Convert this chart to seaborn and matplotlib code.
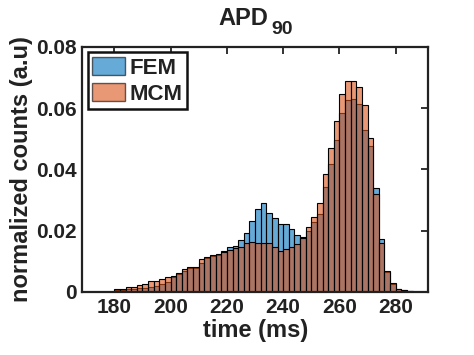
import numpy as np
import pandas as pd
import matplotlib
matplotlib.use("Agg")
import matplotlib.pyplot as plt
from matplotlib.patches import Patch
import seaborn as sns

# histogram bins (ms) and normalized counts
bin_edges = list(range(180, 288, 2))
fem_counts = [
    0.0008, 0.0008, 0.0011, 0.0011, 0.0013, 0.0014, 0.0017, 0.0021, 0.0026, 0.0033,
    0.0048, 0.0058, 0.0070, 0.0078, 0.0078, 0.0094, 0.0112, 0.0118, 0.0119, 0.0133,
    0.0146, 0.0151, 0.0170, 0.0191, 0.0232, 0.0270, 0.0290, 0.0256, 0.0241, 0.0222,
    0.0221, 0.0206, 0.0186, 0.0180, 0.0198, 0.0227, 0.0254, 0.0343, 0.0416, 0.0497,
    0.0584, 0.0627, 0.0630, 0.0613, 0.0527, 0.0476, 0.0340, 0.0173, 0.0065, 0.0027,
    0.0010, 0.0005, 0.0003,
]
mcm_counts = [
    0.0011, 0.0011, 0.0016, 0.0016, 0.0022, 0.0027, 0.0037, 0.0035, 0.0042, 0.0050,
    0.0053, 0.0062, 0.0076, 0.0081, 0.0083, 0.0108, 0.0114, 0.0119, 0.0124, 0.0131,
    0.0137, 0.0144, 0.0148, 0.0159, 0.0162, 0.0159, 0.0160, 0.0159, 0.0146, 0.0133,
    0.0141, 0.0146, 0.0155, 0.0177, 0.0211, 0.0243, 0.0289, 0.0384, 0.0470, 0.0557,
    0.0645, 0.0689, 0.0689, 0.0667, 0.0611, 0.0503, 0.0319, 0.0159, 0.0070, 0.0030,
    0.0011, 0.0005, 0.0003,
]
series_names = ["FEM", "MCM"]
xtick_vals = [180, 200, 220, 240, 260, 280]
ytick_vals = [0, 0.02, 0.04, 0.06, 0.08]
ytick_labels = ["0", "0.02", "0.04", "0.06", "0.08"]

sns.set_style("white")
plt.rcParams["font.family"] = ["Liberation Sans", "DejaVu Sans"]
plt.rcParams["font.weight"] = "bold"
plt.rcParams["text.color"] = "#222222"
plt.rcParams["axes.labelcolor"] = "#222222"
plt.rcParams["xtick.color"] = "#222222"
plt.rcParams["ytick.color"] = "#222222"

blue = "#0072BD"
orange = "#D95319"

centers = np.array(bin_edges[:-1]) + 1
df_fem = pd.DataFrame({"time": centers, "count": fem_counts})
df_mcm = pd.DataFrame({"time": centers, "count": mcm_counts})

fig = plt.figure(figsize=(4.74, 3.55), dpi=100)
ax = fig.add_axes([0.173, 0.1775, 0.7306, 0.691])

sns.histplot(data=df_fem, x="time", weights="count", bins=bin_edges, color=blue,
             alpha=0.6, edgecolor="black", linewidth=0.8, ax=ax)
sns.histplot(data=df_mcm, x="time", weights="count", bins=bin_edges, color=orange,
             alpha=0.6, edgecolor="black", linewidth=0.8, ax=ax)

ax.set_xlim(168.5, 291.6)
ax.set_ylim(0, 0.08)
ax.set_xticks(xtick_vals)
ax.set_yticks(ytick_vals)
ax.set_yticklabels(ytick_labels)
ax.tick_params(direction="in", length=5, width=1.3, top=True, right=True,
               labelsize=15, pad=4)
for lab in ax.get_xticklabels() + ax.get_yticklabels():
    lab.set_fontweight("bold")
for sp in ax.spines.values():
    sp.set_visible(True)
    sp.set_linewidth(1.6)
    sp.set_color("#222222")

ax.set_xlabel("time (ms)", fontsize=17, fontweight="bold", labelpad=2)
ax.set_ylabel("normalized counts (a.u)", fontsize=17, fontweight="bold", labelpad=2)

# title APD with a large bold subscript 90
fig.text(0.5654, 0.9296, "APD", fontsize=17, fontweight="bold", ha="right", va="baseline")
fig.text(0.5720, 0.9034, "90", fontsize=14, fontweight="bold", ha="left", va="baseline")

handles = [Patch(facecolor=blue, alpha=0.6, edgecolor="black", linewidth=1),
           Patch(facecolor=orange, alpha=0.6, edgecolor="black", linewidth=1)]
leg = ax.legend(handles, series_names, loc="upper left", fontsize=16, frameon=True,
                fancybox=False, edgecolor="#111111", framealpha=1,
                borderaxespad=0.25, handlelength=1.5, handleheight=0.9,
                handletextpad=0.2, borderpad=0.2, labelspacing=0.2)
leg.get_frame().set_linewidth(1.8)
for t in leg.get_texts():
    t.set_fontweight("bold")

fig.savefig("out.png", dpi=100)
